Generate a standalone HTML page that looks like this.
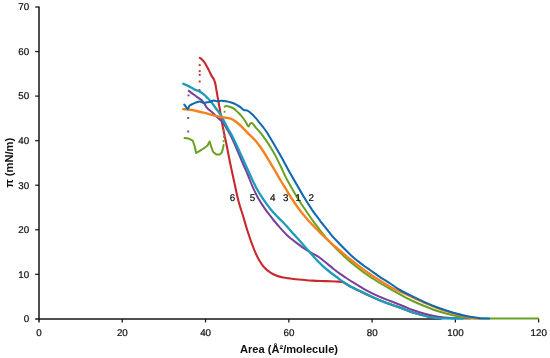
<!DOCTYPE html>
<html><head><meta charset="utf-8"><title>Isotherms</title>
<style>html,body{margin:0;padding:0;background:#fff}body{width:550px;height:358px;position:relative;overflow:hidden}</style></head>
<body>
<svg width="550" height="358" viewBox="0 0 550 358" style="position:absolute;left:0;top:0">
<g stroke="#151515" fill="none">
<path stroke-width="1.5" d="M39.00 6.4V322.4"/>
<path stroke-width="1.5" d="M35.2 318.90H441"/>
<g stroke-width="1.25">
<path d="M35.2 274.34H39.00"/>
<path d="M35.2 229.79H39.00"/>
<path d="M35.2 185.23H39.00"/>
<path d="M35.2 140.67H39.00"/>
<path d="M35.2 96.11H39.00"/>
<path d="M35.2 51.56H39.00"/>
<path d="M35.2 7.00H39.00"/>
<path d="M122.27 318.90V322.4"/>
<path d="M205.54 318.90V322.4"/>
<path d="M288.81 318.90V322.4"/>
<path d="M372.08 318.90V322.4"/>
<path d="M455.35 318.90V322.4"/>
<path d="M538.62 318.90V322.4"/>
</g></g>
<g fill="none" stroke-width="2.0" stroke-linejoin="round" stroke-linecap="round">
<path d="M199.80 57.80 C200.00 57.93 200.45 58.12 201.00 58.60 C201.55 59.08 202.53 60.08 203.10 60.70 C203.67 61.32 203.80 61.38 204.40 62.30 C205.00 63.22 206.02 65.00 206.70 66.20 C207.38 67.40 207.92 68.37 208.50 69.50 C209.08 70.63 209.62 71.82 210.20 73.00 C210.78 74.18 211.50 75.72 212.00 76.60 C212.50 77.48 212.85 77.77 213.20 78.30 C213.55 78.83 213.83 79.18 214.10 79.80 C214.37 80.42 214.55 81.13 214.80 82.00 C215.05 82.87 215.33 83.67 215.60 85.00 C215.87 86.33 216.12 88.33 216.40 90.00 C216.68 91.67 216.95 93.00 217.30 95.00 C217.65 97.00 218.12 99.83 218.50 102.00 C218.88 104.17 219.25 106.00 219.60 108.00 C219.95 110.00 220.22 111.67 220.60 114.00 C220.98 116.33 221.40 119.17 221.90 122.00 C222.40 124.83 223.03 128.17 223.60 131.00 C224.17 133.83 224.70 136.17 225.30 139.00 C225.90 141.83 226.53 144.67 227.20 148.00 C227.87 151.33 228.60 155.50 229.30 159.00 C230.00 162.50 230.83 166.33 231.40 169.00 C231.97 171.67 232.08 172.17 232.70 175.00 C233.32 177.83 234.27 182.18 235.10 186.00 C235.93 189.82 236.85 194.40 237.70 197.90 C238.55 201.40 239.35 204.15 240.20 207.00 C241.05 209.85 241.75 211.55 242.80 215.00 C243.85 218.45 245.27 223.70 246.50 227.70 C247.73 231.70 249.18 236.03 250.20 239.00 C251.22 241.97 251.75 243.27 252.60 245.50 C253.45 247.73 254.20 249.93 255.30 252.40 C256.40 254.87 257.73 257.82 259.20 260.30 C260.67 262.78 262.22 265.23 264.10 267.30 C265.98 269.37 268.38 271.28 270.50 272.70 C272.62 274.12 274.68 275.00 276.80 275.80 C278.92 276.60 281.08 277.07 283.20 277.50 C285.32 277.93 287.38 278.12 289.50 278.40 C291.62 278.68 293.77 278.97 295.90 279.20 C298.03 279.43 299.50 279.57 302.30 279.80 C305.10 280.03 308.83 280.38 312.70 280.60 C316.57 280.82 321.25 280.93 325.50 281.10 C329.75 281.27 335.23 281.40 338.20 281.60 C341.17 281.80 341.82 281.82 343.30 282.30 C344.78 282.78 345.53 283.62 347.10 284.50 C348.67 285.38 349.63 286.02 352.70 287.60 C355.77 289.18 361.25 292.00 365.50 294.00 C369.75 296.00 373.97 297.85 378.20 299.60 C382.43 301.35 386.67 302.95 390.90 304.50 C395.13 306.05 399.97 307.57 403.60 308.90 C407.23 310.23 409.05 311.32 412.70 312.50 C416.35 313.68 421.68 315.12 425.50 316.00 C429.32 316.88 432.85 317.40 435.60 317.80 C438.35 318.20 440.93 318.30 442.00 318.40" stroke="#c8282d" stroke-width="2.1"/>
<rect x="198.75" y="64.15" width="1.9" height="1.9" fill="#c8282d" stroke="none"/>
<rect x="198.75" y="70.25" width="1.9" height="1.9" fill="#c8282d" stroke="none"/>
<rect x="198.75" y="73.85" width="1.9" height="1.9" fill="#c8282d" stroke="none"/>
<rect x="198.75" y="80.55" width="1.9" height="1.9" fill="#c8282d" stroke="none"/>
<rect x="198.55" y="89.05" width="1.9" height="1.9" fill="#c8282d" stroke="none"/>
<path d="M188.80 90.90 C189.42 91.35 191.15 92.60 192.50 93.60 C193.85 94.60 195.43 95.87 196.90 96.90 C198.37 97.93 200.05 98.67 201.30 99.80 C202.55 100.93 203.40 102.32 204.40 103.70 C205.40 105.08 205.97 106.63 207.30 108.10 C208.63 109.57 210.83 111.05 212.40 112.50 C213.97 113.95 215.37 115.53 216.70 116.80 C218.03 118.07 219.30 119.03 220.40 120.10 C221.50 121.17 222.32 121.88 223.30 123.20 C224.28 124.52 225.12 126.03 226.30 128.00 C227.48 129.97 228.95 132.17 230.40 135.00 C231.85 137.83 233.52 141.67 235.00 145.00 C236.48 148.33 237.88 151.67 239.30 155.00 C240.72 158.33 242.07 161.67 243.50 165.00 C244.93 168.33 246.32 171.22 247.90 175.00 C249.48 178.78 251.30 183.88 253.00 187.70 C254.70 191.52 256.18 194.50 258.10 197.90 C260.02 201.30 262.58 205.25 264.50 208.10 C266.42 210.95 268.10 213.02 269.60 215.00 C271.10 216.98 271.77 217.88 273.50 220.00 C275.23 222.12 277.65 225.07 280.00 227.70 C282.35 230.33 285.05 233.43 287.60 235.80 C290.15 238.17 292.75 239.93 295.30 241.90 C297.85 243.87 300.37 245.87 302.90 247.60 C305.43 249.33 308.17 250.93 310.50 252.30 C312.83 253.67 315.47 254.98 316.90 255.80 C318.33 256.62 317.67 256.12 319.10 257.20 C320.53 258.28 323.38 260.60 325.50 262.30 C327.62 264.00 329.68 265.70 331.80 267.40 C333.92 269.10 336.08 270.93 338.20 272.50 C340.32 274.07 342.08 275.18 344.50 276.80 C346.92 278.42 349.20 280.03 352.70 282.20 C356.20 284.37 361.25 287.47 365.50 289.80 C369.75 292.13 373.97 294.28 378.20 296.20 C382.43 298.12 386.67 299.63 390.90 301.30 C395.13 302.97 399.97 304.75 403.60 306.20 C407.23 307.65 409.05 308.70 412.70 310.00 C416.35 311.30 421.25 312.88 425.50 314.00 C429.75 315.12 433.97 316.02 438.20 316.70 C442.43 317.38 445.62 317.78 450.90 318.10 C456.18 318.42 466.73 318.52 469.90 318.60" stroke="#7a3f98" stroke-width="2.0"/>
<rect x="187.55" y="94.45" width="1.9" height="1.9" fill="#7a3f98" stroke="none"/>
<rect x="187.25" y="117.05" width="1.9" height="1.9" fill="#7a3f98" stroke="none"/>
<rect x="187.25" y="130.55" width="1.9" height="1.9" fill="#7a3f98" stroke="none"/>
<path d="M183.30 83.80 C184.00 84.10 186.20 84.98 187.50 85.60 C188.80 86.22 189.90 86.83 191.10 87.50 C192.30 88.17 193.37 89.00 194.70 89.60 C196.03 90.20 197.77 90.43 199.10 91.10 C200.43 91.77 201.80 92.95 202.70 93.60 C203.60 94.25 203.77 94.33 204.50 95.00 C205.23 95.67 206.18 96.68 207.10 97.60 C208.02 98.52 209.00 99.35 210.00 100.50 C211.00 101.65 211.98 103.00 213.10 104.50 C214.22 106.00 215.37 107.68 216.70 109.50 C218.03 111.32 219.85 113.40 221.10 115.40 C222.35 117.40 223.12 119.40 224.20 121.50 C225.28 123.60 226.35 125.75 227.60 128.00 C228.85 130.25 230.22 132.17 231.70 135.00 C233.18 137.83 234.93 141.67 236.50 145.00 C238.07 148.33 239.58 151.67 241.10 155.00 C242.62 158.33 244.08 161.67 245.60 165.00 C247.12 168.33 248.43 171.22 250.20 175.00 C251.97 178.78 254.03 183.67 256.20 187.70 C258.37 191.73 260.77 195.58 263.20 199.20 C265.63 202.82 268.28 206.33 270.80 209.40 C273.32 212.47 275.68 214.83 278.30 217.60 C280.92 220.37 283.72 223.00 286.50 226.00 C289.28 229.00 292.25 232.52 295.00 235.60 C297.75 238.68 300.42 241.60 303.00 244.50 C305.58 247.40 308.33 250.53 310.50 253.00 C312.67 255.47 313.93 257.12 316.00 259.30 C318.07 261.48 320.48 263.90 322.90 266.10 C325.32 268.30 327.95 270.48 330.50 272.50 C333.05 274.52 335.43 276.20 338.20 278.20 C340.97 280.20 344.68 282.93 347.10 284.50 C349.52 286.07 349.63 286.08 352.70 287.60 C355.77 289.12 361.25 291.60 365.50 293.60 C369.75 295.60 373.97 297.78 378.20 299.60 C382.43 301.42 386.67 302.95 390.90 304.50 C395.13 306.05 399.97 307.57 403.60 308.90 C407.23 310.23 409.05 311.32 412.70 312.50 C416.35 313.68 421.68 315.12 425.50 316.00 C429.32 316.88 432.85 317.40 435.60 317.80 C438.35 318.20 437.45 318.27 442.00 318.40 C446.55 318.53 459.42 318.57 462.90 318.60" stroke="#1a9dbb" stroke-width="2.3"/>
<path d="M184.50 137.90 L188.40 138.40 L192.80 140.70 L194.50 145.70 L196.20 153.00 L199.00 151.30 L203.50 148.50 L207.40 145.70 L209.60 141.50 L211.30 146.80 L213.00 151.80 L216.30 154.60 L219.70 154.60 L221.90 152.40 L223.00 147.90 L223.60 145.10" stroke="#68a122" stroke-width="2.0"/>
<path d="M224.60 106.70 C224.93 106.57 225.75 105.88 226.60 105.90 C227.45 105.92 228.50 106.35 229.70 106.80 C230.90 107.25 232.45 107.70 233.80 108.60 C235.15 109.50 236.62 111.08 237.80 112.20 C238.98 113.32 239.95 114.25 240.90 115.30 C241.85 116.35 242.68 117.38 243.50 118.50 C244.32 119.62 245.13 120.87 245.80 122.00 C246.47 123.13 247.02 124.58 247.50 125.30 C247.98 126.02 248.23 126.60 248.70 126.30 C249.17 126.00 249.68 124.00 250.30 123.50 C250.92 123.00 251.55 122.70 252.40 123.30 C253.25 123.90 254.05 125.52 255.40 127.10 C256.75 128.68 259.33 131.45 260.50 132.80 C261.67 134.15 261.35 133.77 262.40 135.20 C263.45 136.63 265.32 139.17 266.80 141.40 C268.28 143.63 269.78 146.07 271.30 148.60 C272.82 151.13 274.30 153.57 275.90 156.60 C277.50 159.63 279.43 163.73 280.90 166.80 C282.37 169.87 283.65 172.80 284.70 175.00 C285.75 177.20 285.93 177.67 287.20 180.00 C288.47 182.33 290.32 185.58 292.30 189.00 C294.28 192.42 296.90 197.00 299.10 200.50 C301.30 204.00 303.85 207.55 305.50 210.00 C307.15 212.45 307.52 213.07 309.00 215.20 C310.48 217.33 312.72 220.50 314.40 222.80 C316.08 225.10 317.42 226.83 319.10 229.00 C320.78 231.17 322.98 233.92 324.50 235.80 C326.02 237.68 326.07 237.97 328.20 240.30 C330.33 242.63 334.27 246.78 337.30 249.80 C340.33 252.82 343.22 255.57 346.40 258.40 C349.58 261.23 353.22 264.23 356.40 266.80 C359.58 269.37 361.87 271.27 365.50 273.80 C369.13 276.33 373.97 279.40 378.20 282.00 C382.43 284.60 386.67 287.00 390.90 289.40 C395.13 291.80 399.97 294.47 403.60 296.40 C407.23 298.33 409.05 299.32 412.70 301.00 C416.35 302.68 421.25 304.78 425.50 306.50 C429.75 308.22 433.97 309.92 438.20 311.30 C442.43 312.68 446.67 313.80 450.90 314.80 C455.13 315.80 460.08 316.70 463.60 317.30 C467.12 317.90 468.43 318.18 472.00 318.40 C475.57 318.62 473.97 318.57 485.00 318.60 C496.03 318.63 529.33 318.60 538.20 318.60" stroke="#68a122" stroke-width="2.0"/>
<rect x="223.65" y="110.75" width="1.9" height="1.9" fill="#68a122" stroke="none"/>
<rect x="223.15" y="129.55" width="1.9" height="1.9" fill="#68a122" stroke="none"/>
<rect x="222.95" y="135.85" width="1.9" height="1.9" fill="#68a122" stroke="none"/>
<rect x="222.65" y="140.25" width="1.9" height="1.9" fill="#68a122" stroke="none"/>
<path d="M183.20 109.10 C184.90 109.30 190.02 109.70 193.40 110.30 C196.78 110.90 200.13 111.87 203.50 112.70 C206.87 113.53 210.85 114.62 213.60 115.30 C216.35 115.98 217.92 116.40 220.00 116.80 C222.08 117.20 224.23 117.37 226.10 117.70 C227.97 118.03 229.67 118.20 231.20 118.80 C232.73 119.40 233.77 120.18 235.30 121.30 C236.83 122.42 238.70 123.95 240.40 125.50 C242.10 127.05 244.05 129.12 245.50 130.60 C246.95 132.08 247.57 132.88 249.10 134.40 C250.63 135.92 252.97 137.80 254.70 139.70 C256.43 141.60 258.05 143.83 259.50 145.80 C260.95 147.77 261.73 148.88 263.40 151.50 C265.07 154.12 267.48 158.17 269.50 161.50 C271.52 164.83 273.70 168.42 275.50 171.50 C277.30 174.58 278.55 177.05 280.30 180.00 C282.05 182.95 283.93 185.87 286.00 189.20 C288.07 192.53 290.52 196.67 292.70 200.00 C294.88 203.33 297.13 206.53 299.10 209.20 C301.07 211.87 302.42 213.53 304.50 216.00 C306.58 218.47 309.17 221.40 311.60 224.00 C314.03 226.60 316.95 229.47 319.10 231.60 C321.25 233.73 322.98 235.35 324.50 236.80 C326.02 238.25 326.07 238.35 328.20 240.30 C330.33 242.25 334.27 245.85 337.30 248.50 C340.33 251.15 343.22 253.60 346.40 256.20 C349.58 258.80 353.22 261.63 356.40 264.10 C359.58 266.57 361.87 268.42 365.50 271.00 C369.13 273.58 373.97 276.90 378.20 279.60 C382.43 282.30 386.67 284.95 390.90 287.20 C395.13 289.45 399.97 291.40 403.60 293.10 C407.23 294.80 409.05 295.72 412.70 297.40 C416.35 299.08 421.25 301.38 425.50 303.20 C429.75 305.02 433.37 306.57 438.20 308.30 C443.03 310.03 448.75 312.03 454.50 313.60 C460.25 315.17 468.45 316.88 472.70 317.70 C476.95 318.52 478.78 318.37 480.00 318.50" stroke="#f5821f" stroke-width="2.4"/>
<path d="M184.30 104.60 C184.58 104.97 185.43 106.08 186.00 106.80 C186.57 107.52 187.08 109.10 187.70 108.90 C188.32 108.70 188.77 106.48 189.70 105.60 C190.63 104.72 192.12 104.17 193.30 103.60 C194.48 103.03 195.68 102.55 196.80 102.20 C197.92 101.85 198.87 101.37 200.00 101.50 C201.13 101.63 202.38 102.87 203.60 103.00 C204.82 103.13 206.08 102.55 207.30 102.30 C208.52 102.05 209.87 101.80 210.90 101.50 C211.93 101.20 212.53 100.55 213.50 100.50 C214.47 100.45 215.32 101.17 216.70 101.20 C218.08 101.23 220.23 100.68 221.80 100.70 C223.37 100.72 224.53 100.98 226.10 101.30 C227.67 101.62 229.50 102.05 231.20 102.60 C232.90 103.15 234.77 103.83 236.30 104.60 C237.83 105.37 239.13 106.30 240.40 107.20 C241.67 108.10 242.72 109.42 243.90 110.00 C245.08 110.58 246.22 110.07 247.50 110.70 C248.78 111.33 250.25 112.60 251.60 113.80 C252.95 115.00 254.25 116.38 255.60 117.90 C256.95 119.42 258.33 121.22 259.70 122.90 C261.07 124.58 262.62 126.45 263.80 128.00 C264.98 129.55 266.02 131.03 266.80 132.20 C267.58 133.37 267.08 132.62 268.50 135.00 C269.92 137.38 273.20 142.90 275.30 146.50 C277.40 150.10 279.20 153.22 281.10 156.60 C283.00 159.98 285.02 163.73 286.70 166.80 C288.38 169.87 289.27 171.58 291.20 175.00 C293.13 178.42 296.05 183.42 298.30 187.30 C300.55 191.18 302.35 194.47 304.70 198.30 C307.05 202.13 310.05 206.85 312.40 210.30 C314.75 213.75 317.17 216.80 318.80 219.00 C320.43 221.20 320.20 220.95 322.20 223.50 C324.20 226.05 328.28 231.30 330.80 234.30 C333.32 237.30 335.17 239.22 337.30 241.50 C339.43 243.78 341.33 245.72 343.60 248.00 C345.87 250.28 348.62 253.10 350.90 255.20 C353.18 257.30 355.18 258.88 357.30 260.60 C359.42 262.32 361.48 263.93 363.60 265.50 C365.72 267.07 367.57 268.28 370.00 270.00 C372.43 271.72 374.72 273.47 378.20 275.80 C381.68 278.13 387.27 281.63 390.90 284.00 C394.53 286.37 396.82 288.13 400.00 290.00 C403.18 291.87 405.75 293.10 410.00 295.20 C414.25 297.30 420.80 300.50 425.50 302.60 C430.20 304.70 433.97 306.23 438.20 307.80 C442.43 309.37 446.67 310.73 450.90 312.00 C455.13 313.27 460.42 314.60 463.60 315.40 C466.78 316.20 467.27 316.33 470.00 316.80 C472.73 317.27 476.83 317.90 480.00 318.20 C483.17 318.50 487.50 318.53 489.00 318.60" stroke="#0f69af" stroke-width="2.05"/>
</g>
<g text-rendering="geometricPrecision" font-family="'Liberation Sans', sans-serif" font-size="9.8" fill="#111" stroke="#111" stroke-width="0.22">
<text x="29.2" y="322.25" text-anchor="end">0</text>
<text x="29.2" y="277.69" text-anchor="end">10</text>
<text x="29.2" y="233.14" text-anchor="end">20</text>
<text x="29.2" y="188.58" text-anchor="end">30</text>
<text x="29.2" y="144.02" text-anchor="end">40</text>
<text x="29.2" y="99.46" text-anchor="end">50</text>
<text x="29.2" y="54.91" text-anchor="end">60</text>
<text x="29.2" y="10.35" text-anchor="end">70</text>
<text x="39.10" y="336.4" text-anchor="middle">0</text>
<text x="122.37" y="336.4" text-anchor="middle">20</text>
<text x="205.64" y="336.4" text-anchor="middle">40</text>
<text x="288.91" y="336.4" text-anchor="middle">60</text>
<text x="372.18" y="336.4" text-anchor="middle">80</text>
<text x="455.45" y="336.4" text-anchor="middle">100</text>
<text x="538.72" y="336.4" text-anchor="middle">120</text>
<text x="232.40" y="200.6" text-anchor="middle">6</text>
<text x="252.60" y="200.6" text-anchor="middle">5</text>
<text x="272.70" y="200.6" text-anchor="middle">4</text>
<text x="285.70" y="200.6" text-anchor="middle">3</text>
<text x="298.30" y="200.6" text-anchor="middle">1</text>
<text x="311.30" y="200.6" text-anchor="middle">2</text>
</g>
<g font-family="'Liberation Sans', sans-serif" font-weight="bold" font-size="10.3" fill="#111">
<text x="240" y="353.1" textLength="98" lengthAdjust="spacingAndGlyphs">Area (Å²/molecule)</text>
<text transform="translate(12.6 187.8) rotate(-90)" textLength="50" lengthAdjust="spacingAndGlyphs">π (mN/m)</text>
</g>
</svg>
</body></html>
